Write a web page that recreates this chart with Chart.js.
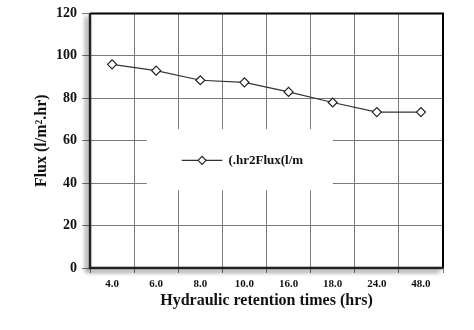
<!DOCTYPE html>
<html>
<head>
<meta charset="utf-8">
<script src="https://cdn.jsdelivr.net/npm/chart.js@4/dist/chart.umd.min.js"></script>
<style>
  html, body { margin: 0; padding: 0; background: #fff; }
  #wrap { width: 474px; height: 330px; }
</style>
</head>
<body>
<div id="wrap"><canvas id="c" width="474" height="330"></canvas></div>
<script>
// Hydraulic retention time categories (hrs)
const retentionTimes = ['4.0', '6.0', '8.0', '10.0', '16.0', '18.0', '24.0', '48.0'];
// Permeate flux at each retention time (l/m².hr)
const fluxValues = [96, 93, 88.5, 87.5, 83, 78, 73.5, 73.5];
const seriesLabel = '(.hr2Flux(l/m';
const yTicks = [0, 20, 40, 60, 80, 100, 120];

const serif = '"Liberation Serif", "Times New Roman", serif';

// Frame: black border on top/right, dark axis lines with a soft shadow on left/bottom
const framePlugin = {
  id: 'frame',
  beforeDatasetsDraw(chart) {
    const { ctx, chartArea: a } = chart;
    // white panel behind the legend entry, covering the grid
    const bx1 = a.left + 0.161 * (a.right - a.left);
    const bx2 = a.left + 0.688 * (a.right - a.left);
    const by1 = a.top + 0.454 * (a.bottom - a.top);
    const by2 = a.top + 0.695 * (a.bottom - a.top);
    ctx.save();
    ctx.fillStyle = '#fff';
    ctx.fillRect(bx1, by1, bx2 - bx1, by2 - by1);
    ctx.restore();

    ctx.save();
    ctx.strokeStyle = '#000';
    ctx.lineWidth = 2;
    ctx.beginPath();
    ctx.moveTo(a.left, a.top);
    ctx.lineTo(a.right, a.top);
    ctx.lineTo(a.right, a.bottom);
    ctx.stroke();
    ctx.shadowColor = 'rgba(0,0,0,0.55)';
    ctx.shadowBlur = 4;
    ctx.shadowOffsetX = -3;
    ctx.shadowOffsetY = 3;
    ctx.strokeStyle = '#222';
    ctx.lineWidth = 2.5;
    ctx.beginPath();
    ctx.moveTo(a.left, a.top);
    ctx.lineTo(a.left, a.bottom);
    ctx.lineTo(a.right, a.bottom);
    ctx.stroke();
    ctx.restore();
  },
  afterDatasetsDraw(chart) {
    // legend entry drawn inside the plot
    const { ctx, chartArea: a } = chart;
    const ds = chart.data.datasets[0];
    const w = a.right - a.left, h = a.bottom - a.top;
    const lx1 = a.left + 0.26 * w, lx2 = a.left + 0.375 * w;
    const ly = a.top + 0.577 * h;
    ctx.save();
    ctx.strokeStyle = ds.borderColor;
    ctx.lineWidth = 1.2;
    ctx.beginPath();
    ctx.moveTo(lx1, ly);
    ctx.lineTo(lx2, ly);
    ctx.stroke();
    ctx.fillStyle = ds.pointBackgroundColor;
    ctx.strokeStyle = ds.pointBorderColor;
    ctx.lineWidth = ds.pointBorderWidth;
    Chart.helpers.drawPoint(ctx, {
      pointStyle: 'rectRot', radius: 4, borderWidth: ds.pointBorderWidth
    }, (lx1 + lx2) / 2, ly);
    ctx.fillStyle = '#111';
    ctx.font = 'bold 13px ' + serif;
    ctx.textBaseline = 'middle';
    ctx.textAlign = 'left';
    ctx.fillText(ds.label, lx2 + 6, ly);
    ctx.restore();
  }
};

new Chart(document.getElementById('c'), {
  type: 'line',
  data: {
    labels: retentionTimes,
    datasets: [{
      label: seriesLabel,
      data: fluxValues,
      borderColor: '#333',
      borderWidth: 1.2,
      pointStyle: 'rectRot',
      pointRadius: 4.5,
      pointBackgroundColor: '#fff',
      pointBorderColor: '#222',
      pointBorderWidth: 1.2,
      tension: 0,
      fill: false
    }]
  },
  options: {
    responsive: false,
    animation: false,
    devicePixelRatio: 1,
    layout: { padding: { top: 6, right: 31, left: 0, bottom: 0 } },
    plugins: {
      legend: { display: false },
      tooltip: { enabled: false }
    },
    scales: {
      x: {
        type: 'category',
        offset: true,
        afterFit(scale) { scale.height = 62; },
        grid: {
          offset: true,
          color: '#7a7a7a',
          lineWidth: 1,
          drawTicks: true,
          tickLength: 5,
          tickColor: '#7a7a7a'
        },
        border: { display: false },
        ticks: {
          color: '#111',
          padding: 5,
          font: { family: serif, size: 11, weight: 'bold' },
          maxRotation: 0
        },
        title: {
          display: true,
          text: 'Hydraulic retention times (hrs)',
          color: '#111',
          font: { family: serif, size: 16, weight: 'bold' },
          padding: { top: 0, bottom: 20 }
        }
      },
      y: {
        min: 0,
        max: 120,
        afterFit(scale) { scale.width = 90; },
        afterBuildTicks(scale) { scale.ticks = yTicks.map(v => ({ value: v })); },
        grid: {
          color: '#7a7a7a',
          lineWidth: 1,
          drawTicks: true,
          tickLength: 8,
          tickColor: '#7a7a7a'
        },
        border: { display: false },
        ticks: {
          color: '#111',
          padding: 5,
          font: { family: serif, size: 14, weight: 'bold' }
        },
        title: {
          display: true,
          text: 'Flux (l/m².hr)',
          color: '#111',
          font: { family: serif, size: 16, weight: 'bold' },
          padding: { top: 32, bottom: 0 }
        }
      }
    }
  },
  plugins: [framePlugin]
});
</script>
</body>
</html>
